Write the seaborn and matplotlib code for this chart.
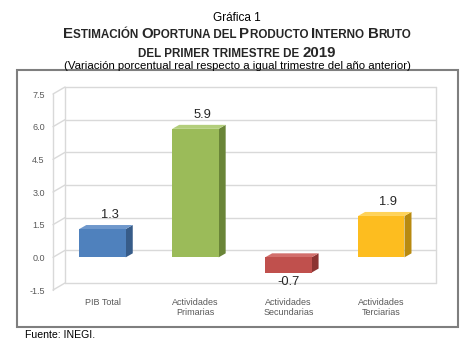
import seaborn as sns
import pandas as pd
import matplotlib
matplotlib.use("Agg")
from matplotlib import pyplot as plt
from matplotlib.patches import Polygon, Rectangle
from matplotlib.lines import Line2D

# data
categories = ['PIB Total', 'Actividades\nPrimarias', 'Actividades\nSecundarias', 'Actividades\nTerciarias']
values = [1.3, 5.9, -0.7, 1.9]
value_labels = ['1.3', '5.9', '-0.7', '1.9']
yticks = [-1.5, 0.0, 1.5, 3.0, 4.5, 6.0, 7.5]

front_colors = ['#4F81BD', '#9BBB59', '#C0504D', '#FDBD1F']
side_colors = ['#375C89', '#6A8538', '#8C3432', '#B88A10']
top_colors = ['#6F98CC', '#B3CE7C', '#D26F6C', '#FFD359']

sns.set_style("white")
plt.rcParams['font.family'] = ['Liberation Sans', 'DejaVu Sans']

W, H = 474, 351
fig = plt.figure(figsize=(4.74, 3.51), dpi=100)
ax = fig.add_axes([53 / W, 1 - 290 / H, (424 - 53) / W, (290 - 94) / H])

df = pd.DataFrame({'cat': categories, 'val': values})
sns.barplot(data=df, x='cat', y='val', hue='cat', palette=front_colors, width=0.5,
            legend=False, ax=ax, saturation=1, edgecolor='none')
ax.set_xlim(-0.533, 3.46)
ax.set_ylim(-1.5, 7.5)
ax.set_yticks(yticks)
ax.set_yticklabels([f"{t:.1f}" for t in yticks])
ax.set_xlabel('')
ax.set_ylabel('')
for s in ax.spines.values():
    s.set_visible(False)
ax.tick_params(axis='both', length=0, labelsize=6.5, colors='#595959')
ax.tick_params(axis='y', pad=6)
ax.tick_params(axis='x', pad=6)
for lab in ax.get_xticklabels():
    lab.set_linespacing(1.15)

# 3D-ish back wall: gridlines offset back and up
grid_c = '#D9D9D9'
wall_dx, wall_dy = 12, 7  # pixels
inv = ax.transData.inverted()
to_px = ax.transData.transform
for t in yticks:
    x0, y0 = to_px((-0.533, t))
    x1, _ = to_px((3.46, t))
    fig.add_artist(Line2D([x0 / W, (x0 + wall_dx) / W], [y0 / H, (y0 + wall_dy) / H],
                          color=grid_c, lw=1, transform=fig.transFigure, zorder=0))
    fig.add_artist(Line2D([(x0 + wall_dx) / W, (x1 + wall_dx) / W], [(y0 + wall_dy) / H, (y0 + wall_dy) / H],
                          color=grid_c, lw=1, transform=fig.transFigure, zorder=0))
xb, yb = to_px((-0.533, -1.5))
xr, yt = to_px((3.46, 7.5))
fig.add_artist(Line2D([xb / W, xb / W], [yb / H, yt / H], color=grid_c, lw=1, transform=fig.transFigure, zorder=0))
fig.add_artist(Line2D([(xb + wall_dx) / W] * 2, [(yb + wall_dy) / H, (yt + wall_dy) / H],
                      color=grid_c, lw=1, transform=fig.transFigure, zorder=0))
fig.add_artist(Line2D([(xr + wall_dx) / W] * 2, [(yb + wall_dy) / H, (yt + wall_dy) / H],
                      color=grid_c, lw=1, transform=fig.transFigure, zorder=0))
ax.patch.set_alpha(0)

# bar depth faces
bdx, bdy = 7, 4
ddx = inv.transform((bdx, 0))[0] - inv.transform((0, 0))[0]
ddy = inv.transform((0, bdy))[1] - inv.transform((0, 0))[1]
for i, p in enumerate(ax.patches):
    x0 = p.get_x()
    x1 = x0 + p.get_width()
    ylo = min(p.get_y(), p.get_y() + p.get_height())
    yhi = max(p.get_y(), p.get_y() + p.get_height())
    side = Polygon([(x1, ylo), (x1, yhi), (x1 + ddx, yhi + ddy), (x1 + ddx, ylo + ddy)],
                   closed=True, facecolor=side_colors[i], edgecolor='none', zorder=3)
    top = Polygon([(x0, yhi), (x1, yhi), (x1 + ddx, yhi + ddy), (x0 + ddx, yhi + ddy)],
                  closed=True, facecolor=top_colors[i], edgecolor='none', zorder=3)
    ax.add_patch(side)
    ax.add_patch(top)
    p.set_zorder(4)
    cx = x0 + p.get_width() / 2
    if values[i] >= 0:
        ax.annotate(value_labels[i], (cx, yhi), xytext=(7, 8), textcoords='offset pixels',
                    ha='center', va='bottom', fontsize=9.3, color='#262626')
    else:
        ax.annotate(value_labels[i], (cx, ylo), xytext=(0, -3), textcoords='offset pixels',
                    ha='center', va='top', fontsize=9.3, color='#262626')

# frame
fig.add_artist(Rectangle((17 / W, 1 - 327 / H), 441 / W, 257 / H, fill=False,
                         edgecolor='#7F7F7F', lw=1.5, transform=fig.transFigure))

# titles
fig.text(0.5, 1 - 18 / H, 'Gráfica 1', ha='center', va='center', fontsize=8.5, color='black')
renderer = fig.canvas.get_renderer()


def small_caps(parts, yc, big=10.8, small=8.4):
    texts = []
    for s, is_big in parts:
        t = fig.text(0, yc, s, fontsize=big if is_big else small, fontweight='bold',
                     ha='left', va='baseline', transform=None)
        texts.append(t)
    widths = [t.get_window_extent(renderer).width for t in texts]
    x = W / 2 - sum(widths) / 2
    for t, w in zip(texts, widths):
        t.set_position((x, yc))
        x += w


small_caps([('E', True), ('STIMACIÓN ', False), ('O', True), ('PORTUNA DEL ', False),
            ('P', True), ('RODUCTO ', False), ('I', True), ('NTERNO ', False),
            ('B', True), ('RUTO', False)], H - 38.5)
small_caps([('DEL PRIMER TRIMESTRE DE ', False), ('2019', True)], H - 57)
fig.text(0.5, 1 - 66 / H, '(Variación porcentual real respecto a igual trimestre del año anterior)',
         ha='center', va='center', fontsize=8.2, color='black')
fig.text(25 / W, 1 - 335 / H, 'Fuente: INEGI.', ha='left', va='center', fontsize=7.6, color='black')

fig.savefig('out.png', dpi=100)
